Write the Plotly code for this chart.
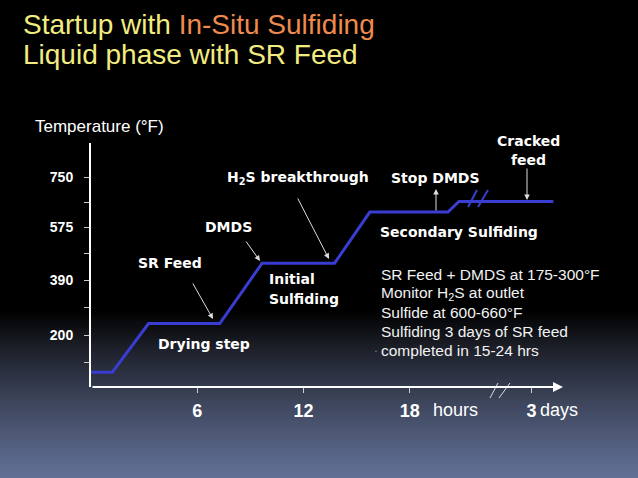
import plotly.graph_objects as go

# ---------------- data ----------------
hours = [0, 1.2, 3.25, 7.27, 9.66, 13.75, 15.74, 20.15, 20.77, 26.1]
temps = [70, 70, 240, 240, 450, 450, 628, 628, 665, 665]

y_tick_vals = [200, 390, 575, 750]
y_tick_text = ["200", "390", "575", "750"]
y_minor_vals = [106, 295, 483, 663]
x_tick_vals = [6, 12, 18, 24.86]
x_tick_text = ["6", "12", "18", "3"]

title_line1_a = "Startup with "
title_line1_b = "In-Situ Sulfiding"
title_line2 = "Liquid phase with SR Feed"
y_title = "Temperature (°F)"
notes = [
    "SR Feed + DMDS at 175-300°F",
    "Monitor H<sub>2</sub>S at outlet",
    "Sulfide at 600-660°F",
    "Sulfiding 3 days of SR feed",
    "completed in 15-24 hrs",
]

# ---------------- layout geometry (pixels) ----------------
W_FIG, H_FIG = 638, 478
L, R, T, B = 91, 51, 143, 91
PW = W_FIG - L - R
PH = H_FIG - T - B
Y_BOTTOM = H_FIG - B


def xp(px):
    return (px - L) / PW


def yp(py):
    return (Y_BOTTOM - py) / PH


WHITE = "#ffffff"
YELLOW = "#f2ec80"
ORANGE = "#ee8a4e"
BLUE = "#3a3dd2"
ARIAL = "Liberation Sans, Arial, sans-serif"
VERD = "DejaVu Sans, Verdana, sans-serif"

fig = go.Figure()
fig.add_trace(go.Scatter(x=hours, y=temps, mode="lines",
                         line=dict(color=BLUE, width=3),
                         hoverinfo="skip", cliponaxis=False, showlegend=False))

shapes = []
# background gradient bands (black top -> blue-grey bottom)
stops = [(0, (0, 0, 0)), (310, (0, 0, 0)), (350, (30, 33, 43)), (400, (60, 68, 90)),
         (450, (85, 98, 130)), (478, (99, 113, 152))]


def col_at(y):
    for (y0, c0), (y1, c1) in zip(stops[:-1], stops[1:]):
        if y0 <= y <= y1:
            f = (y - y0) / (y1 - y0) if y1 > y0 else 0
            return "rgb(%d,%d,%d)" % tuple(round(a + (b - a) * f) for a, b in zip(c0, c1))
    return "rgb(%d,%d,%d)" % stops[-1][1]


step = 2
for y in range(310, 478, step):
    shapes.append(dict(type="rect", xref="paper", yref="paper", layer="below",
                       x0=xp(0), x1=xp(W_FIG), y0=yp(y + step + 0.5), y1=yp(y),
                       fillcolor=col_at(y + step / 2), line=dict(width=0)))

# break marks on the temperature line
for (x0, y0, x1, y1) in [(468, 207, 477, 190), (478, 207, 488, 190)]:
    shapes.append(dict(type="line", xref="paper", yref="paper",
                       x0=xp(x0), y0=yp(y0), x1=xp(x1), y1=yp(y1),
                       line=dict(color=BLUE, width=2)))
# break marks on the time axis
for (x0, y0, x1, y1) in [(490, 398, 498, 383), (499, 398, 510, 383)]:
    shapes.append(dict(type="line", xref="paper", yref="paper",
                       x0=xp(x0), y0=yp(y0), x1=xp(x1), y1=yp(y1),
                       line=dict(color="#dddddd", width=1)))

ann = []


def text(t, px, py, size, color=WHITE, family=VERD, xanchor="left"):
    ann.append(dict(text=t, x=xp(px), y=yp(py), xref="paper", yref="paper",
                    xanchor=xanchor, yanchor="middle", showarrow=False,
                    font=dict(family=family, size=size, color=color)))


def arrow(hx, hy, tx, ty, color="#dddddd", width=1, size=1.1, head=2):
    ann.append(dict(text="", x=xp(hx), y=yp(hy), xref="paper", yref="paper",
                    ax=tx - hx, ay=ty - hy, axref="pixel", ayref="pixel",
                    showarrow=True, arrowhead=head, arrowsize=size,
                    arrowwidth=width, arrowcolor=color, standoff=0, startstandoff=0))


# title
text(title_line1_a + "<span style='color:%s'>%s</span>" % (ORANGE, title_line1_b),
     21, 24, 28, YELLOW, ARIAL)
text(title_line2, 21, 54, 28, YELLOW, ARIAL)
text(y_title, 33, 127, 17, WHITE, ARIAL)

# chart labels
text("<b>SR Feed</b>", 136, 263, 14)
text("<b>DMDS</b>", 203, 227, 14)
text("<b>H<sub>2</sub>S breakthrough</b>", 225, 178, 14)
text("<b>Initial</b>", 267, 279, 14)
text("<b>Sulfiding</b>", 267, 299, 14)
text("<b>Drying step</b>", 156, 344, 14)
text("<b>Stop DMDS</b>", 389, 178, 14)
text("<b>Cracked</b>", 528, 141, 14, xanchor="center")
text("<b>feed</b>", 528, 160, 14, xanchor="center")
text("<b>Secondary Sulfiding</b>", 378, 232, 14)

# note block
for i, (t, cy) in enumerate(zip(notes, [274, 293.5, 312.5, 331.5, 350.5])):
    text(t, 379, cy, 15.5, "#f2f2f2", ARIAL)
text("•", 376, 351, 5, "#888888", ARIAL, xanchor="center")

# axis word labels
text("hours", 431, 410, 18, WHITE, ARIAL)
text("days", 538, 410, 18, WHITE, ARIAL)

# pointer arrows
arrow(213, 319, 192, 282)
arrow(260, 261, 245, 240)
arrow(329, 259, 297, 197)
arrow(436, 189, 436, 212)
arrow(527, 200, 527, 167)
# time axis with arrow
arrow(563, Y_BOTTOM, L, Y_BOTTOM, color=WHITE, width=2, size=1, head=2)

fig.update_layout(
    width=W_FIG, height=H_FIG,
    margin=dict(l=L, r=R, t=T, b=B, pad=0),
    paper_bgcolor="#000000", plot_bgcolor="rgba(0,0,0,0)",
    shapes=shapes, annotations=ann, showlegend=False,
    xaxis=dict(range=[0, 28], showgrid=False, zeroline=False, showline=False,
               ticks="outside", ticklen=5, tickwidth=1, tickcolor="#cccccc",
               tickvals=x_tick_vals, ticktext=["<b>%s</b>" % t for t in x_tick_text],
               tickfont=dict(family=ARIAL, size=18, color=WHITE),
               ticklabelstandoff=2, automargin=False, fixedrange=True),
    yaxis=dict(range=[19, 868.4], showgrid=False, zeroline=False, showline=True,
               linecolor=WHITE, linewidth=2, ticks="outside", ticklen=5,
               tickwidth=1, tickcolor="#cccccc",
               tickvals=y_tick_vals, ticktext=["<b>%s</b>" % t for t in y_tick_text],
               tickfont=dict(family=ARIAL, size=14, color=WHITE),
               minor=dict(tickvals=y_minor_vals, ticks="outside", ticklen=5,
                          tickwidth=1, tickcolor="#cccccc", showgrid=False),
               ticklabelstandoff=8, automargin=False, fixedrange=True),
)

fig.write_html(
    "out.html",
    config={"displayModeBar": False, "staticPlot": True},
    post_script="document.body.style.margin='0';document.body.style.background='#000';",
)
